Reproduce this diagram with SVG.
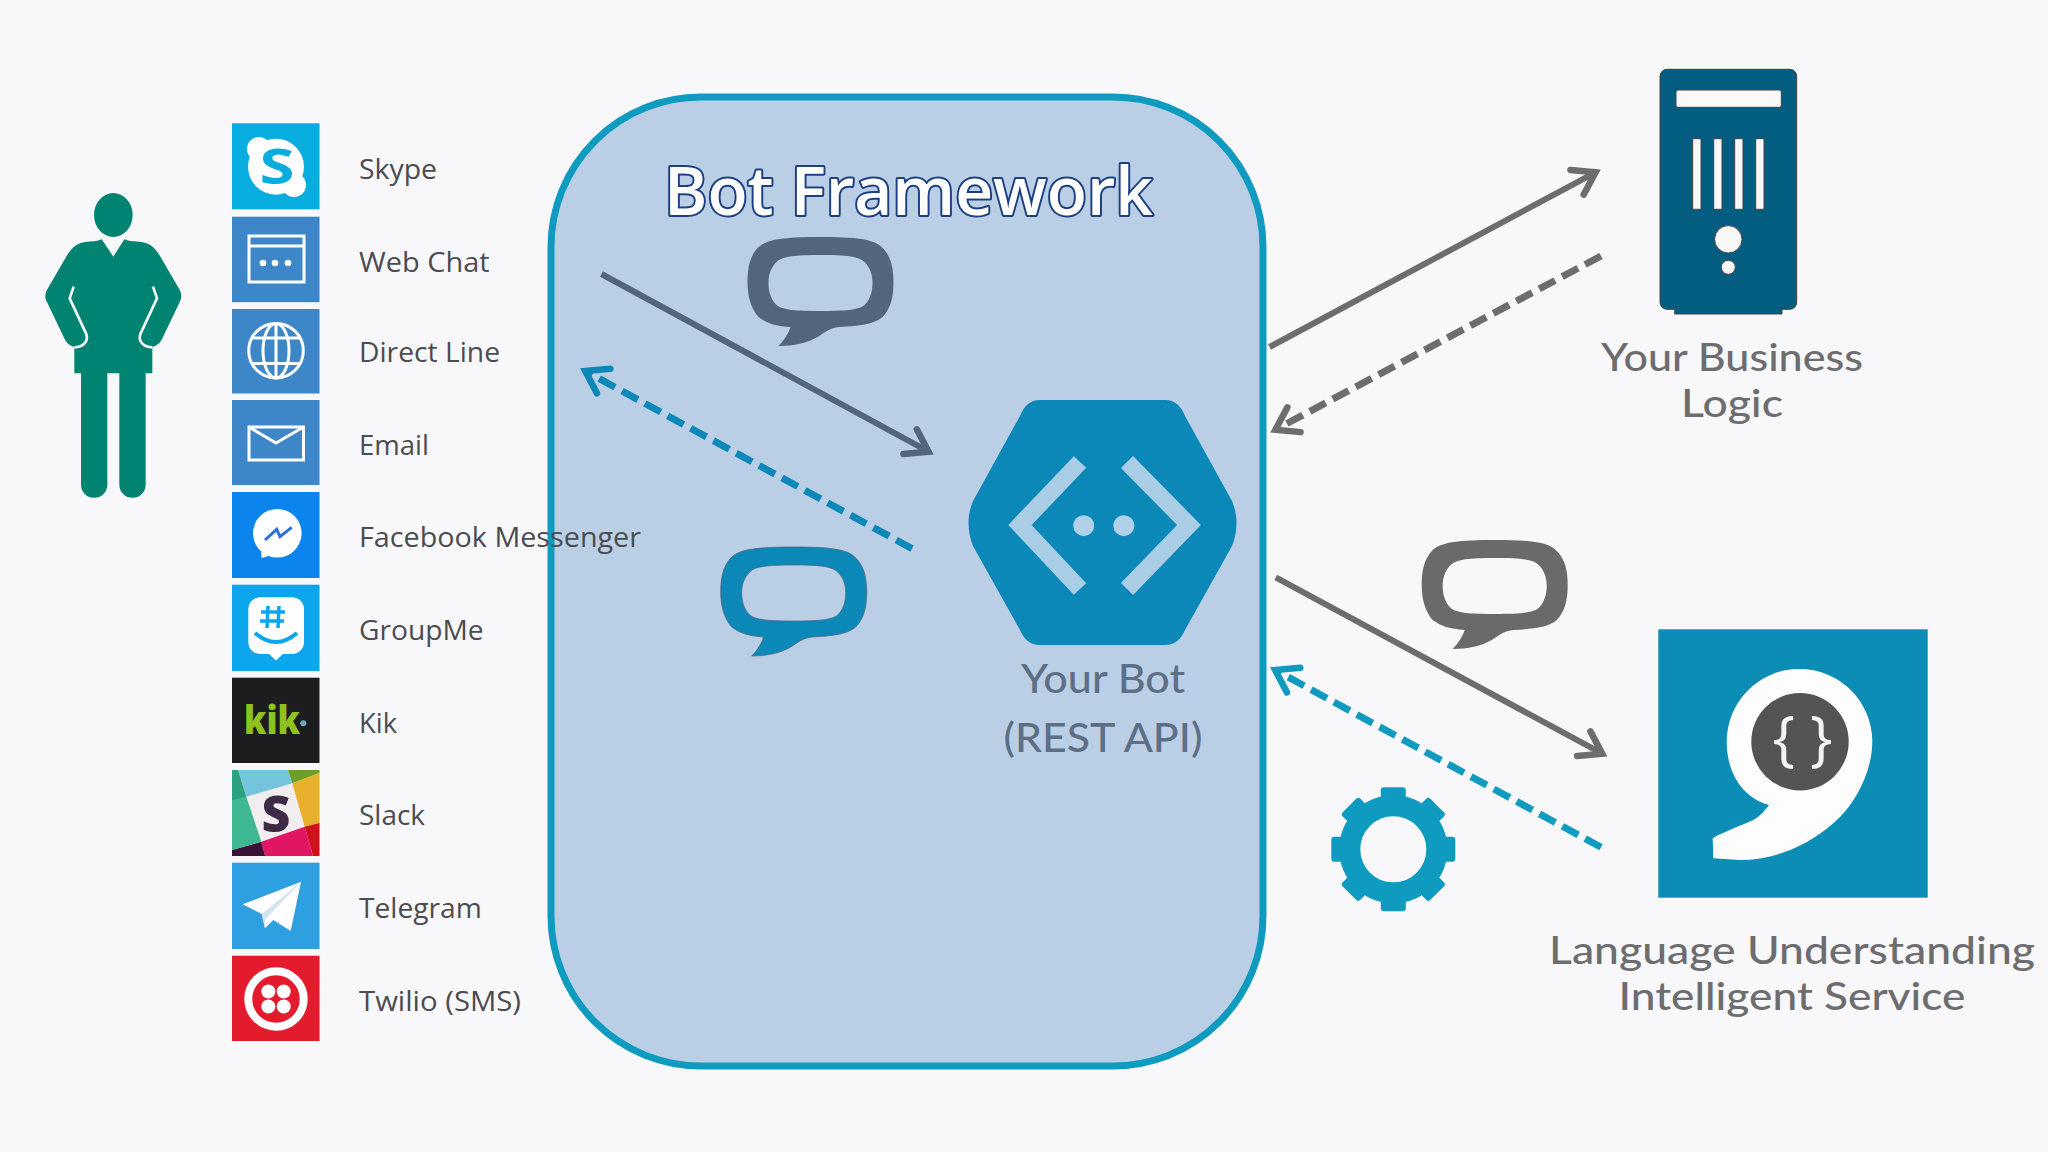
<svg xmlns="http://www.w3.org/2000/svg" width="2048" height="1152" viewBox="0 0 2048 1152">
<style>
.t{font-family:"Open Sans","Noto Sans",sans-serif}
.l{font-family:Lato,"Open Sans",sans-serif}
.ch{font-size:28px;fill:#4b4b50}
.big{font-size:38px;font-weight:500;fill:#6d6d70;text-anchor:middle}
.slate{font-size:40px;font-weight:500;fill:#5d6f86;text-anchor:middle}
.ln{fill:none;stroke-width:6}
.d{stroke-dasharray:18 8;stroke-width:7}
.w{fill:none;stroke:#fff;stroke-width:3}
.slot{fill:#faf8f8;stroke:#444;stroke-width:1}
</style>
<defs>
<marker id="mSlate" markerUnits="userSpaceOnUse" viewBox="-40 -25 60 50" markerWidth="60" markerHeight="50" refX="0" refY="0" orient="auto"><path d="M-19 -14L2 0L-19 14" fill="none" stroke="#53657d" stroke-width="6.5" stroke-linecap="round"/></marker>
<marker id="mBlue" markerUnits="userSpaceOnUse" viewBox="-40 -25 60 50" markerWidth="60" markerHeight="50" refX="0" refY="0" orient="auto"><path d="M-19 -14L2 0L-19 14" fill="none" stroke="#0b88b8" stroke-width="6.5" stroke-linecap="round"/></marker>
<marker id="mGray" markerUnits="userSpaceOnUse" viewBox="-40 -25 60 50" markerWidth="60" markerHeight="50" refX="0" refY="0" orient="auto"><path d="M-19 -14L2 0L-19 14" fill="none" stroke="#6d6d70" stroke-width="6.5" stroke-linecap="round"/></marker>
<marker id="mCyan" markerUnits="userSpaceOnUse" viewBox="-40 -25 60 50" markerWidth="60" markerHeight="50" refX="0" refY="0" orient="auto"><path d="M-19 -14L2 0L-19 14" fill="none" stroke="#0f9bc0" stroke-width="6.5" stroke-linecap="round"/></marker>
<path id="bubble" fill-rule="evenodd" d="M73 0C108 0 126 2 134 10C144 19 146 32 146 45C146 58 144 71 135 80C126 88 108 89 92 90C82 91 78 95 70 100C60 106 46 109 31 109C37 103 41 96 43 90C28 89 19 86 11 80C3 71 0 58 0 45C0 32 2 19 11 10C20 2 38 0 73 0ZM73 18C48 18 35 19 29 25C23 31 21 38 21 46C21 54 23 62 29 68C35 73 48 74 73 74C98 74 111 73 117 68C123 62 125 54 125 46C125 38 123 31 117 25C111 19 98 18 73 18Z"/>
<rect id="tooth" x="-12.5" y="-62" width="25" height="18" rx="3" fill="#0f9bc0"/>
</defs>
<rect width="2048" height="1152" fill="#f8f8fb"/>

<g id="framework">
<rect x="551" y="97" width="712" height="969" rx="150" ry="150" fill="#bacfe5" stroke="#0f9bc0" stroke-width="7"/>
<text class="t" x="664" y="215" font-size="67" font-weight="600" textLength="489" lengthAdjust="spacingAndGlyphs" fill="#fff" stroke="#1b3f80" stroke-width="4" paint-order="stroke" stroke-linejoin="round">Bot Framework</text>
</g>

<g id="person" transform="translate(20 170) scale(.33333)">
<ellipse cx="280" cy="135" rx="58" ry="66" fill="#008471"/>
<path fill="#008471" d="M245 208L280 260L313 208C335 218 365 212 385 222C402 230 412 245 420 258L478 358C486 372 486 385 478 398L428 503C420 520 410 528 397 530L397 610L377 610L377 944A39.5 39.5 0 0 1 298 944L298 610L262 610L262 944A39.5 39.5 0 0 1 183 944L183 610L163 610L163 530C150 528 140 520 132 503L82 398C74 385 74 372 82 358L140 258C148 245 158 230 175 222C195 212 225 218 245 208Z"/>
<path fill="none" stroke="#f8f8fb" stroke-width="8" d="M399 350L411 385L362 490C352 515 372 532 397 532"/>
<path fill="none" stroke="#f8f8fb" stroke-width="8" d="M161 350L149 385L198 490C208 515 188 532 163 532"/>
</g>

<g id="skype">
<rect x="232" y="123.3" width="87.5" height="86" fill="#08addf"/>
<circle cx="276" cy="166.7" r="28" fill="#fff"/><circle cx="259" cy="149" r="12" fill="#fff"/><circle cx="294" cy="185" r="12" fill="#fff"/>
<text class="t" x="259.5" y="184" font-size="49" font-weight="700" textLength="35" lengthAdjust="spacingAndGlyphs" fill="#08addf">S</text>
<text class="t ch" x="359" y="179" textLength="78" lengthAdjust="spacingAndGlyphs">Skype</text>
</g>
<g id="webchat">
<rect x="232" y="216.7" width="87.5" height="85.5" fill="#3d87c8"/>
<rect class="w" x="249" y="236" width="55" height="46"/>
<path class="w" d="M249 246H304"/>
<circle cx="263" cy="263" r="3.3" fill="#fff"/><circle cx="275" cy="263" r="3.3" fill="#fff"/><circle cx="288" cy="263" r="3.3" fill="#fff"/>
<text class="t ch" x="359" y="271.7" textLength="130.7" lengthAdjust="spacingAndGlyphs">Web Chat</text>
</g>
<g id="directline">
<rect x="232" y="309" width="87.5" height="84.5" fill="#3d87c8"/>
<circle class="w" cx="276" cy="350.7" r="27.3"/><ellipse class="w" cx="276" cy="350.7" rx="13" ry="27.3"/>
<path class="w" d="M276 323.4V378M253 338H299M253 363.5H299"/>
<text class="t ch" x="359" y="362" textLength="141" lengthAdjust="spacingAndGlyphs">Direct Line</text>
</g>
<g id="email">
<rect x="232" y="400" width="87.5" height="85" fill="#3d87c8"/>
<rect class="w" x="249" y="427" width="54.5" height="33"/>
<path class="w" d="M249 427L276 443L303.5 427"/>
<text class="t ch" x="359" y="455" textLength="70" lengthAdjust="spacingAndGlyphs">Email</text>
</g>
<g id="messenger">
<rect x="232" y="492" width="87.5" height="86" fill="#0b84ee"/>
<circle cx="277.3" cy="533.3" r="24.3" fill="#fff"/><path d="M261 552L261.7 558L272 555Z" fill="#fff"/>
<path d="M265 540L276.7 529.3L280 536.7L291.7 527.3" fill="none" stroke="#2e6fe0" stroke-width="3"/>
<text class="t ch" x="359" y="546.7" textLength="282" lengthAdjust="spacingAndGlyphs">Facebook Messenger</text>
</g>
<g id="groupme">
<rect x="232" y="584.7" width="87.5" height="86.3" fill="#0ba6ec"/>
<rect x="248.3" y="597.3" width="55.7" height="56.7" rx="12" fill="#fff"/><path d="M268 653H284L276 660.5Z" fill="#fff"/>
<path d="M268 606L267 628M279 606L278 628M261 612H285M260 621H284" stroke="#0ba6ec" stroke-width="3.5" fill="none"/>
<path d="M255 633Q276 651 297 633" stroke="#0ba6ec" stroke-width="4" fill="none"/>
<text class="t ch" x="359" y="640" textLength="124.7" lengthAdjust="spacingAndGlyphs">GroupMe</text>
</g>
<g id="kik">
<rect x="232" y="677.7" width="87.5" height="85.3" fill="#1d1d20"/>
<text class="t" x="244" y="734" font-size="38" font-weight="800" fill="#8ec31f" textLength="56" lengthAdjust="spacingAndGlyphs">kik</text>
<circle cx="303.3" cy="723.3" r="3" fill="#69a9b8"/>
<text class="t ch" x="359" y="732.7" textLength="38" lengthAdjust="spacingAndGlyphs">Kik</text>
</g>
<g id="slack">
<g transform="translate(232 770)">
<rect width="87.5" height="86" fill="#f2eef0"/>
<polygon points="6,0 56,0 60.3,13.3 14.3,26.7" fill="#72c5dc"/>
<polygon points="56,0 87.5,0 87.5,3 60.3,13.3" fill="#6b9f2b"/>
<polygon points="60.3,13.3 87.5,3 87.5,53 72.7,56.7" fill="#e9b12b"/>
<polygon points="72.7,56.7 87.5,53 87.5,86 81,86" fill="#d0101a"/>
<polygon points="29.3,71.7 72.7,56.7 81,86 33,86" fill="#e01563"/>
<polygon points="0,80 29.3,71.7 33,86 0,86" fill="#3a1238"/>
<polygon points="0,28 14.3,26.7 29.3,71.7 0,80" fill="#3db892"/>
<polygon points="0,0 6,0 14.3,26.7 0,30" fill="#2ba180"/>
</g>
<text class="t" x="276" y="832" font-size="50" font-weight="800" text-anchor="middle" fill="#3f2a45">S</text>
<text class="t ch" x="359" y="825" textLength="66" lengthAdjust="spacingAndGlyphs">Slack</text>
</g>
<g id="telegram">
<rect x="232" y="862.7" width="87.5" height="86.3" fill="#2e9fe0"/>
<polygon points="301,881.7 242.7,904.3 261.7,914 265,928.3 273.3,920 290.7,931" fill="#fff"/>
<polygon points="261.7,914 301,881.7 265,920 265,928.3" fill="#d5e5ef"/>
<text class="t ch" x="359" y="917.7" textLength="122.7" lengthAdjust="spacingAndGlyphs">Telegram</text>
</g>
<g id="twilio">
<rect x="232" y="955.7" width="87.5" height="85.3" fill="#e31b2d"/>
<circle cx="276" cy="999" r="27.7" fill="none" stroke="#fff" stroke-width="8"/>
<circle cx="268.3" cy="991.5" r="7" fill="#fff"/><circle cx="283.7" cy="991.5" r="7" fill="#fff"/><circle cx="268.3" cy="1006.5" r="7" fill="#fff"/><circle cx="283.7" cy="1006.5" r="7" fill="#fff"/>
<text class="t ch" x="359" y="1010.7" textLength="162" lengthAdjust="spacingAndGlyphs">Twilio (SMS)</text>
</g>

<g id="your-bot">
<path fill="#0b88b8" d="M1040 400H1165C1175 400 1181 406 1185 416L1232 501C1238 515 1238 531 1232 546L1185 630C1181 639 1175 645 1165 645H1040C1030 645 1024 639 1020 630L973 546C967 531 967 515 973 501L1020 416C1024 406 1030 400 1040 400Z"/>
<path d="M1080 462L1020 525L1080 589M1127 462L1189 525L1127 589" fill="none" stroke="#a9cde5" stroke-width="17"/>
<circle cx="1083.7" cy="525.7" r="10.5" fill="#b2d1e8"/><circle cx="1123.8" cy="525.7" r="10.5" fill="#b2d1e8"/>
<text class="l slate" x="1103" y="693" textLength="164" lengthAdjust="spacingAndGlyphs">Your Bot</text>
<text class="l slate" x="1103" y="752" textLength="199" lengthAdjust="spacingAndGlyphs">(REST API)</text>
</g>

<g id="business-logic">
<path fill="#025d80" stroke="#444" stroke-width="1" d="M1667 69.3H1790A7 7 0 0 1 1796.7 76V302A7 7 0 0 1 1790 309.3H1782V314H1674.7V309.3H1667A7 7 0 0 1 1660 302V76A7 7 0 0 1 1667 69.3Z"/>
<rect class="slot" x="1676" y="90" width="105.3" height="17.3" rx="2"/>
<rect class="slot" x="1692.7" y="138.7" width="8.3" height="70.6"/><rect class="slot" x="1713.7" y="138.7" width="8.3" height="70.6"/><rect class="slot" x="1734.7" y="138.7" width="8.3" height="70.6"/><rect class="slot" x="1755.7" y="138.7" width="8.3" height="70.6"/>
<circle class="slot" cx="1728.3" cy="239.3" r="13.7"/><circle class="slot" cx="1728.3" cy="267.3" r="7"/>
<text class="l big" x="1732" y="371" textLength="262" lengthAdjust="spacingAndGlyphs">Your Business</text>
<text class="l big" x="1732" y="417" textLength="102" lengthAdjust="spacingAndGlyphs">Logic</text>
</g>

<g id="luis">
<rect x="1658.3" y="629.3" width="269.4" height="268.4" fill="#0b8db5"/>
<path fill="#fdfdfe" d="M1726.7 741.7A72.8 72.8 0 0 1 1872.3 741.7C1872.3 770 1856.7 803.3 1833.3 823.3C1806.7 846.7 1773.3 860 1740 860L1713.3 858.3L1712.7 838.3C1720 833.3 1740 826 1753.3 820C1760 816.7 1765 810 1769 805C1740 796.7 1726.7 770 1726.7 741.7Z"/>
<circle cx="1800" cy="741.7" r="48.7" fill="#545356"/>
<text class="t" x="1772.5" y="759" font-size="60" textLength="60" lengthAdjust="spacing" fill="#f4f4f4">{ }</text>
<text class="l big" x="1792" y="964" textLength="486" lengthAdjust="spacingAndGlyphs">Language Understanding</text>
<text class="l big" x="1792" y="1010" textLength="347" lengthAdjust="spacingAndGlyphs">Intelligent Service</text>
</g>

<g id="gear" transform="translate(1393.3 849.3)">
<circle r="43.5" fill="none" stroke="#0f9bc0" stroke-width="21"/>
<use href="#tooth"/><use href="#tooth" transform="rotate(45)"/><use href="#tooth" transform="rotate(90)"/><use href="#tooth" transform="rotate(135)"/><use href="#tooth" transform="rotate(180)"/><use href="#tooth" transform="rotate(225)"/><use href="#tooth" transform="rotate(270)"/><use href="#tooth" transform="rotate(315)"/>
</g>

<g id="message-in"><use href="#bubble" x="747.5" y="237" fill="#53657d"/></g>
<g id="message-out"><use href="#bubble" x="720.7" y="547" fill="#0b88b8" stroke="#4e6a7c" stroke-width=".8"/></g>
<g id="message-query"><use href="#bubble" x="1421.7" y="540" fill="#6a6a6d"/></g>

<g id="connectors">
<path class="ln" stroke="#53657d" marker-end="url(#mSlate)" d="M601.5 274L926.8 450.7"/>
<path class="ln d" stroke="#0b88b8" marker-end="url(#mBlue)" d="M912 548.6L587 372"/>
<path class="ln" stroke="#6d6d70" marker-end="url(#mGray)" d="M1269.5 347L1593.8 173.3"/>
<path class="ln d" stroke="#6d6d70" marker-end="url(#mGray)" d="M1601 256L1277.2 428.7"/>
<path class="ln" stroke="#6d6d70" marker-end="url(#mGray)" d="M1275.7 577.3L1600.5 752.7"/>
<path class="ln d" stroke="#0f9bc0" marker-end="url(#mCyan)" d="M1601 847.3L1276.9 671"/>
</g>
</svg>
